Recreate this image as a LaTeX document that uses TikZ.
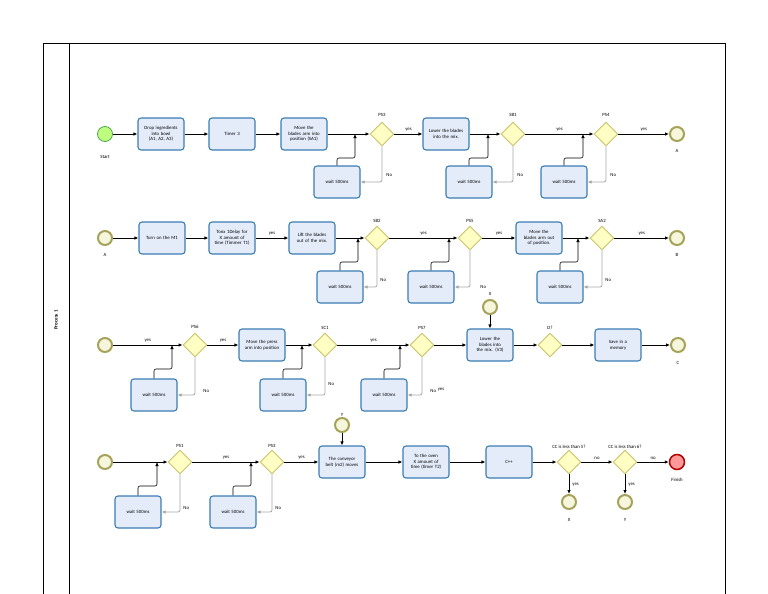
\documentclass[tikz,border=0pt]{standalone}
\usepackage{fontspec}
\setmainfont{Carlito}
\usetikzlibrary{shapes.geometric,arrows.meta,calc}
\definecolor{tfill}{HTML}{E4ECFA}
\definecolor{tdraw}{HTML}{3A7DB2}
\definecolor{gfill}{HTML}{FFFFC4}
\definecolor{gdraw}{HTML}{C9C26A}
\definecolor{cfill}{HTML}{F6F6DC}
\definecolor{cdraw}{HTML}{A6A25A}
\begin{document}
\begin{tikzpicture}[x=1pt,y=-1pt,
 font=\fontsize{4.8}{5.6}\selectfont,
 task/.style={draw=tdraw,fill=tfill,line width=1.1pt,rounded corners=3pt,minimum width=46pt,minimum height=32pt,text width=36pt,align=center,inner sep=1pt,execute at begin node={\hyphenpenalty=10000\relax}},
 gw/.style={diamond,draw=gdraw,fill=gfill,line width=0.9pt,minimum size=24pt,inner sep=0pt},
 ev/.style={circle,draw=cdraw,fill=cfill,line width=2pt,minimum size=14pt,inner sep=0pt},
 st/.style={circle,draw=green!50!black!70,fill=green!50!yellow!50,line width=0.8pt,minimum size=15pt,inner sep=0pt},
 fin/.style={circle,draw=red!70!black,fill=red!40,line width=1.5pt,minimum size=15pt,inner sep=0pt},
 fl/.style={-{Latex[length=4pt,width=3.5pt]},line width=0.8pt},
 no/.style={-{Latex[length=4pt,width=3.5pt]},line width=0.8pt,draw=gray!70,rounded corners=2pt},
 bk/.style={-{Latex[length=4pt,width=3.5pt]},line width=0.6pt,rounded corners=2pt},
 lb/.style={inner sep=0pt}]
\useasboundingbox (0,0) rectangle (768,594);
\draw[line width=0.6pt] (43,594) -- (43,43) -- (725,43) -- (725,594);
\draw[line width=0.6pt] (69,43) -- (69,594);
\node[rotate=90,font=\fontsize{5}{6}\selectfont\bfseries] (pl) at (56,320) {Process 1};

% ---------- Row 1 ----------
\node[st] (s1) at (105,134) {};
\node[lb] (s1l) at (105,157) {Start};
\node[task] (t11) at (161,134) {Drop ingredients into bowl (A1, A2, A3)};
\node[task] (t12) at (232,134) {Timer 3};
\node[task] (t13) at (304,134) {Move the blades arm into position (SA1)};
\node[gw] (g11) at (382,134) {};
\node[lb] at (382,115) {PS3};
\node[task] (t14) at (446,134) {Lower the blades into the mix.};
\node[gw] (g12) at (513,134) {};
\node[lb] at (513,115) {SB1};
\node[gw] (g13) at (606,134) {};
\node[lb] at (606,115) {PS4};
\node[ev] (e1) at (677,134) {};
\node[lb] at (677,151) {A};
\node[task] (w11) at (337,182) {wait 500ms};
\node[task] (w12) at (469,182) {wait 500ms};
\node[task] (w13) at (564,182) {wait 500ms};
\draw[fl] (s1) -- (t11);
\draw[fl] (t11) -- (t12);
\draw[fl] (t12) -- (t13);
\draw[fl] (t13) -- (g11);
\draw[fl] (g11) -- node[above,lb,yshift=2pt]{yes} (t14);
\draw[fl] (t14) -- (g12);
\draw[fl] (g12) -- node[above,lb,yshift=2pt]{yes} (g13);
\draw[fl] (g13) -- node[above,lb,yshift=2pt]{yes} (e1);
\draw[no] (g11.south) |- node[pos=0.4,right,lb,xshift=4pt]{No} (w11.east);
\draw[no] (g12.south) |- node[pos=0.4,right,lb,xshift=4pt]{No} (w12.east);
\draw[no] (g13.south) |- node[pos=0.4,right,lb,xshift=4pt]{No} (w13.east);
\coordinate (j11) at (355,134);
\coordinate (j12) at (488,134);
\coordinate (j13) at (583,134);
\draw[bk] (w11.north) |- ($(j11)+(0,24)$) -- (j11);
\draw[bk] (w12.north) |- ($(j12)+(0,24)$) -- (j12);
\draw[bk] (w13.north) |- ($(j13)+(0,24)$) -- (j13);

% ---------- Row 2 ----------
\node[ev] (s2) at (105,238) {};
\node[lb] at (105,255) {A};
\node[task] (t21) at (162,238) {Turn on the M1};
\node[task] (t22) at (232,238) {Tonx 1Delay for X amount of time (Timmer T1)};
\node[task] (t23) at (312,238) {Lift the blades out of the mix.};
\node[gw] (g21) at (377,238) {};
\node[lb] at (377,221) {SB2};
\node[gw] (g22) at (470,238) {};
\node[lb] at (470,221) {PS5};
\node[task] (t24) at (539,238) {Move the blades arm out of position.};
\node[gw] (g23) at (602,238) {};
\node[lb] at (602,221) {SA2};
\node[ev] (e2) at (677,238) {};
\node[lb] at (677,255) {B};
\node[task] (w21) at (340,287) {wait 500ms};
\node[task] (w22) at (431,287) {wait 500ms};
\node[task] (w23) at (560,287) {wait 500ms};
\draw[fl] (s2) -- (t21);
\draw[fl] (t21) -- (t22);
\draw[fl] (t22) -- node[above,lb,yshift=2pt]{yes} (t23);
\draw[fl] (t23) -- (g21);
\draw[fl] (g21) -- node[above,lb,yshift=2pt]{yes} (g22);
\draw[fl] (g22) -- node[above,lb,yshift=2pt]{yes} (t24);
\draw[fl] (t24) -- (g23);
\draw[fl] (g23) -- node[above,lb,yshift=2pt]{yes} (e2);
\draw[no] (g21.south) |- node[pos=0.4,right,lb,xshift=3pt]{No} (w21.east);
\draw[no] (g22.south) |- node[pos=0.5,right,lb,xshift=10pt]{No} (w22.east);
\draw[no] (g23.south) |- node[pos=0.4,right,lb,xshift=3pt]{No} (w23.east);
\coordinate (j21) at (358,238);
\coordinate (j22) at (449,238);
\coordinate (j23) at (578,238);
\draw[bk] (w21.north) |- ($(j21)+(0,24)$) -- (j21);
\draw[bk] (w22.north) |- ($(j22)+(0,24)$) -- (j22);
\draw[bk] (w23.north) |- ($(j23)+(0,24)$) -- (j23);

% ---------- Row 3 ----------
\node[ev] (s3) at (105,345) {};
\node[gw] (g31) at (195,345) {};
\node[lb] at (195,327) {PS6};
\node[task] (t31) at (262,345) {Move the press arm into position};
\node[gw] (g32) at (325,345) {};
\node[lb] at (325,328) {SC1};
\node[gw] (g33) at (422,345) {};
\node[lb] at (422,328) {PS7};
\node[task] (t32) at (490,345) {Lower the blades into the mix. (V3)};
\node[ev] (x3) at (490,307) {};
\node[lb] at (490,294) {X};
\node[gw] (g34) at (550,345) {};
\node[lb] at (550,328) {D?};
\node[task] (t33) at (618,345) {Save in a memory};
\node[ev] (e3) at (678,345) {};
\node[lb] at (678,363) {C};
\node[task] (w31) at (154,395) {wait 500ms};
\node[task] (w32) at (283,395) {wait 500ms};
\node[task] (w33) at (384,395) {wait 500ms};
\draw[fl] (s3) -- node[above,lb,yshift=2pt]{yes} (g31);
\draw[fl] (g31) -- node[above,lb,yshift=2pt]{yes} (t31);
\draw[fl] (t31) -- (g32);
\draw[fl] (g32) -- node[above,lb,yshift=2pt]{yes} (g33);
\draw[fl] (g33) -- (t32);
\draw[fl] (x3) -- (t32);
\draw[fl] (t32) -- (g34);
\draw[fl] (g34) -- (t33);
\draw[fl] (t33) -- (e3);
\draw[no] (g31.south) |- node[pos=0.45,right,lb,xshift=8pt]{No} (w31.east);
\draw[no] (g32.south) |- node[pos=0.35,right,lb,xshift=3pt]{No} (w32.east);
\draw[no] (g33.south) |- node[pos=0.45,right,lb,xshift=8pt]{No} (w33.east);
\node[lb] (y3) at (441,390) {yes};
\coordinate (j31) at (172,345);
\coordinate (j32) at (302,345);
\coordinate (j33) at (400,345);
\draw[bk] (w31.north) |- ($(j31)+(0,24)$) -- (j31);
\draw[bk] (w32.north) |- ($(j32)+(0,24)$) -- (j32);
\draw[bk] (w33.north) |- ($(j33)+(0,24)$) -- (j33);

% ---------- Row 4 ----------
\node[ev] (s4) at (105,462) {};
\node[gw] (g41) at (180,462) {};
\node[lb] at (180,446) {PS1};
\node[gw] (g42) at (272,462) {};
\node[lb] at (272,446) {PS3};
\node[task] (t41) at (342,462) {The conveyor belt (m2) moves};
\node[ev] (y4) at (342,425) {};
\node[lb] at (342,415) {Y};
\node[task] (t42) at (426,462) {To the oven X amount of time (timer T2)};
\node[task] (t43) at (509,462) {C++};
\node[gw] (g43) at (569,462) {};
\node[lb] at (569,447) {CC is less than 5?};
\node[gw] (g44) at (625,462) {};
\node[lb] at (625,447) {CC is less than 6?};
\node[fin] (f4) at (677,462) {};
\node[lb] at (677,480) {Finish};
\node[ev] (x4) at (569,502) {};
\node[lb] at (569,520) {X};
\node[ev] (yy4) at (625,502) {};
\node[lb] at (625,520) {Y};
\node[task] (w41) at (138,512) {wait 500ms};
\node[task] (w42) at (233,512) {wait 500ms};
\draw[fl] (s4) -- (g41);
\draw[fl] (g41) -- node[above,lb,yshift=2pt]{yes} (g42);
\draw[fl] (g42) -- node[above,lb,yshift=2pt]{yes} (t41);
\draw[fl] (y4) -- (t41);
\draw[fl] (t41) -- (t42);
\draw[fl] (t42) -- (t43);
\draw[fl] (t43) -- (g43);
\draw[fl] (g43) -- node[above,lb,yshift=2pt]{no} (g44);
\draw[fl] (g44) -- node[above,lb,yshift=2pt]{no} (f4);
\draw[fl] (g43) -- node[right,lb,xshift=3pt]{yes} (x4);
\draw[fl] (g44) -- node[right,lb,xshift=3pt]{yes} (yy4);
\draw[no] (g41.south) |- node[pos=0.45,right,lb,xshift=3pt]{No} (w41.east);
\draw[no] (g42.south) |- node[pos=0.45,right,lb,xshift=3pt]{No} (w42.east);
\coordinate (j41) at (157,462);
\coordinate (j42) at (251,462);
\draw[bk] (w41.north) |- ($(j41)+(0,24)$) -- (j41);
\draw[bk] (w42.north) |- ($(j42)+(0,24)$) -- (j42);
\end{tikzpicture}
\end{document}
